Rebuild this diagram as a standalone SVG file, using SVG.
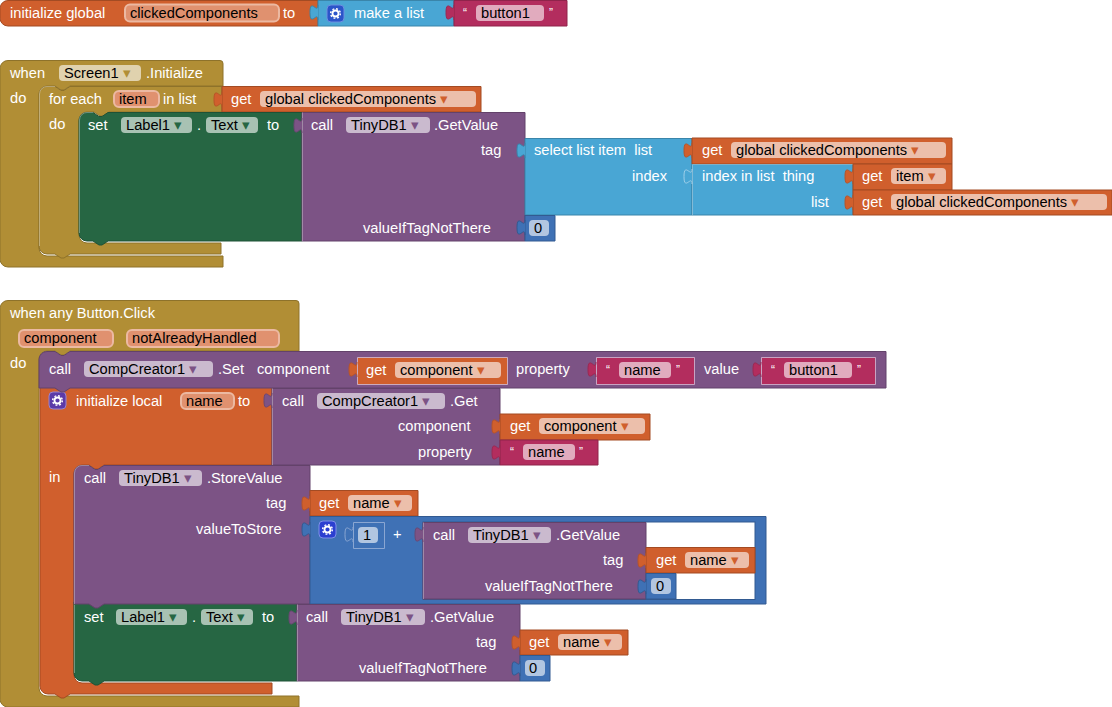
<svg xmlns="http://www.w3.org/2000/svg" width="1112" height="707" viewBox="0 0 1112 707">
<style>
text{font-family:"Liberation Sans",Arial,sans-serif;font-size:14.67px;fill:#fff;white-space:pre}
text.k{fill:#000}
text.q{font-size:12px}
.o{fill:#d05f2d;stroke:#a34b23}.ot{fill:#d05f2d;stroke:#b85428}
.b{fill:#49a6d4;stroke:#3a85aa}.bt{fill:#49a6d4;stroke:#3a85aa}
.btl{fill:#49a6d4;stroke:#9fd0ea}
.r{fill:#b32d5e;stroke:#8f244b}.rt{fill:#b32d5e;stroke:#9c2852}
.g{fill:#b18e35;stroke:#8e722a}
.v{fill:#7c5385;stroke:#63426a}.vt{fill:#7c5385;stroke:#6b4873}
.d{fill:#266643;stroke:#1e5236}
.n{fill:#3f71b5;stroke:#325a91}.nt{fill:#3f71b5;stroke:#325a91}
.ntl{fill:#3f71b5;stroke:#8aa6d2}
.f{fill:#fff;fill-opacity:.6}
.fd{fill:#e0916f;stroke:#ecb9a2;stroke-width:2}
.hl{fill:none;stroke:#fff;stroke-opacity:.35}
.ol{stroke:#d9c6dd;stroke-opacity:.75}
.to{fill:#d05f2d}.tv{fill:#7c5385}.tg{fill:#b18e35}.td{fill:#266643}
</style>
<defs>
<path id="tab" d="M0,0c0,10-8-8-8,7.500s8-2.500,8,7.500"/>
<g id="gear"><circle cx="8.500" cy="8.500" r="3" fill="none" stroke="#fff" stroke-width="1.800"/><circle cx="8.500" cy="8.500" r="4.800" fill="none" stroke="#fff" stroke-width="1.500" stroke-dasharray="1.900 1.870"/></g>
</defs>

<g id="init-global">
<path class="o" d="M8,0.500H318V26H8a8,8 0 0 1-8-8V8.500a8,8 0 0 1 8-8z"/>
<text x="10" y="18">initialize global</text>
<rect class="fd" x="125" y="4.500" width="154" height="17" rx="5"/>
<text class="k" x="130" y="18">clickedComponents</text>
<text x="283" y="18">to</text>
</g>
<g id="make-list">
<path class="b" d="M318,0.500H454V26H318z"/>
<use href="#tab" x="318" y="5" class="bt"/>
<rect x="327" y="5" width="17" height="17" rx="4" fill="#2b54c9" stroke="#6d8fe0"/>
<use href="#gear" x="327" y="5"/>
<text x="354" y="18">make a list</text>
</g>
<g id="text-button1-a">
<path class="r" d="M454,0.500H567V26H454z"/>
<use href="#tab" x="454" y="5" class="rt"/>
<text class="q" x="463" y="17">“</text>
<rect class="f" x="476" y="5" width="68" height="16" rx="4"/>
<text class="k" x="481" y="18">button1</text>
<text class="q" x="549" y="17">”</text>
</g>

<g id="when-screen">
<path class="g" d="M8,60.500H220q3,0 3,3V86H70l-6,4h-3l-6-4H47a8,8 0 0 0-8,8V248a8,8 0 0 0 8,8H223V267H8a8,8 0 0 1-8-8V68.500a8,8 0 0 1 8-8z"/>
<text x="10" y="78">when</text>
<rect class="f" x="59" y="65" width="82" height="16" rx="4"/>
<text class="k" x="64" y="78">Screen1 <tspan class="tg">▾</tspan></text>
<text x="146" y="78">.Initialize</text>
<text x="10" y="103">do</text>
</g>
<g id="for-each">
<path class="g" d="M47,86.500H55l6,4h3l6-4H222V112H109l-6,4h-3l-6-4H87a8,8 0 0 0-8,8V235a8,8 0 0 0 8,8H221V254H70l-6,4h-3l-6-4H47a8,8 0 0 1-8-8V94.500a8,8 0 0 1 8-8z"/>
<path class="hl" d="M39.500,246V94a7.500,7.500 0 0 1 7.500-7.500H55"/>
<text x="49" y="104">for each</text>
<rect class="fd" x="114" y="91" width="45" height="16" rx="5"/>
<text class="k" x="119" y="104">item</text>
<text x="163" y="104">in list</text>
<text x="49" y="129">do</text>
</g>
<g id="get-global-a">
<path class="o" d="M222,86.500H481V112H222z"/>
<use href="#tab" x="222" y="92" class="ot"/>
<text x="231" y="104">get</text>
<rect class="f" x="260" y="91" width="216" height="16" rx="4"/>
<text class="k" x="265" y="104">global clickedComponents <tspan class="to">▾</tspan></text>
</g>
<g id="set-label-a">
<path class="d" d="M87,112.500H93l6,4h3l6-4H302V241H108l-6,4h-3l-6-4H87a8,8 0 0 1-8-8V120.500a8,8 0 0 1 8-8z"/>
<path class="hl" d="M79.500,233V120a7.500,7.500 0 0 1 7.500-7.500H93"/>
<text x="88" y="130">set</text>
<rect class="f" x="121" y="117" width="71" height="16" rx="4"/>
<text class="k" x="126" y="130">Label1 <tspan class="td">▾</tspan></text>
<text x="197" y="130">.</text>
<rect class="f" x="206" y="117" width="52" height="16" rx="4"/>
<text class="k" x="211" y="130">Text <tspan class="td">▾</tspan></text>
<text x="267" y="130">to</text>
</g>
<g id="tinydb-getvalue-a">
<path class="v" d="M302,112.500H525V241H302z"/>
<path class="hl" d="M302.500,241V112.500"/>
<use href="#tab" x="302" y="118" class="vt"/>
<text x="311" y="130">call</text>
<rect class="f" x="346" y="117" width="84" height="16" rx="4"/>
<text class="k" x="351" y="130">TinyDB1 <tspan class="tv">▾</tspan></text>
<text x="434" y="130">.GetValue</text>
<text x="481" y="155">tag</text>
<text x="363" y="233">valueIfTagNotThere</text>
</g>
<g id="select-list-item">
<path class="b" d="M525,138.500H692V215H525z"/>
<use href="#tab" x="525" y="143" class="bt"/>
<text x="534" y="155">select list item  list</text>
<text x="632" y="181">index</text>
</g>
<g id="get-global-b">
<path class="o" d="M692,138H952V164H692z"/>
<use href="#tab" x="692" y="143" class="ot"/>
<text x="702" y="155">get</text>
<rect class="f" x="731" y="142" width="215" height="16" rx="4"/>
<text class="k" x="736" y="155">global clickedComponents <tspan class="to">▾</tspan></text>
</g>
<g id="index-in-list">
<path class="b" d="M692,164.500H853V215H692z"/>
<path class="hl" d="M692.500,215V164.500H853"/>
<use href="#tab" x="692" y="169" class="btl"/>
<text x="702" y="181">index in list  thing</text>
<text x="811" y="207">list</text>
</g>
<g id="get-item">
<path class="o" d="M853,164H952V190H853z"/>
<use href="#tab" x="853" y="169" class="ot"/>
<text x="862" y="181">get</text>
<rect class="f" x="891" y="168" width="55" height="16" rx="4"/>
<text class="k" x="896" y="181">item <tspan class="to">▾</tspan></text>
</g>
<g id="get-global-c">
<path class="o" d="M853,190H1112V215H853z"/>
<use href="#tab" x="853" y="195" class="ot"/>
<text x="862" y="207">get</text>
<rect class="f" x="891" y="194" width="216" height="16" rx="4"/>
<text class="k" x="896" y="207">global clickedComponents <tspan class="to">▾</tspan></text>
</g>
<g id="num-0-a">
<path class="n" d="M525,215.500H555V241H525z"/>
<use href="#tab" x="525" y="220" class="nt"/>
<rect class="f" x="529" y="220" width="20" height="16" rx="4"/>
<text class="k" x="534" y="233">0</text>
</g>

<g id="when-any-button">
<path class="g" d="M8,300.500H296q3,0 3,3V351H70l-6,4h-3l-6-4H47a8,8 0 0 0-8,8V688a8,8 0 0 0 8,8H299V707H8a8,8 0 0 1-8-8V308.500a8,8 0 0 1 8-8z"/>
<text x="10" y="318">when any Button.Click</text>
<rect class="fd" x="19" y="330" width="94" height="17" rx="5"/>
<text class="k" x="24" y="343">component</text>
<rect class="fd" x="127" y="330" width="152" height="17" rx="5"/>
<text class="k" x="132" y="343">notAlreadyHandled</text>
<text x="10" y="368">do</text>
</g>
<g id="init-local">
<path class="o" d="M40,386H272V465H104l-6,4h-3l-6-4H82a8,8 0 0 0-8,8V675a8,8 0 0 0 8,8H272V694H70l-6,4h-3l-6-4H48a8,8 0 0 1-8-8z"/>
<rect x="49" y="392" width="17" height="17" rx="4" fill="#5b3aa8" stroke="#9a84d0"/>
<use href="#gear" x="49" y="392"/>
<text x="76" y="406">initialize local</text>
<rect class="fd" x="181" y="393" width="53" height="16" rx="5"/>
<text class="k" x="186" y="406">name</text>
<text x="238" y="406">to</text>
<text x="49" y="482">in</text>
</g>
<g id="compcreator-set">
<path class="v" d="M47,351.500H55l6,4h3l6-4H886V388H70l-6,4h-3l-6-4H39V359.500a8,8 0 0 1 8-8z"/>
<text x="49" y="374">call</text>
<rect class="f" x="84" y="361" width="129" height="16" rx="4"/>
<text class="k" x="89" y="374">CompCreator1 <tspan class="tv">▾</tspan></text>
<text x="218" y="374">.Set</text>
<text x="257" y="374">component</text>
<text x="516" y="374">property</text>
<text x="704" y="374">value</text>
</g>
<g id="get-component-a">
<path class="o ol" d="M357.500,357.500H507.500V384.500H357.500z"/>
<use href="#tab" x="357" y="362" class="ot"/>
<text x="366" y="375">get</text>
<rect class="f" x="395" y="362" width="106" height="16" rx="4"/>
<text class="k" x="400" y="375">component <tspan class="to">▾</tspan></text>
</g>
<g id="text-name-a">
<path class="r ol" d="M596.500,357.500H694.500V384.500H596.500z"/>
<use href="#tab" x="596" y="362" class="rt"/>
<text class="q" x="606" y="374">“</text>
<rect class="f" x="619" y="362" width="52" height="16" rx="4"/>
<text class="k" x="624" y="375">name</text>
<text class="q" x="676" y="374">”</text>
</g>
<g id="text-button1-b">
<path class="r ol" d="M761.500,357.500H875.500V384.500H761.500z"/>
<use href="#tab" x="761" y="362" class="rt"/>
<text class="q" x="771" y="374">“</text>
<rect class="f" x="784" y="362" width="68" height="16" rx="4"/>
<text class="k" x="789" y="375">button1</text>
<text class="q" x="857" y="374">”</text>
</g>
<g id="compcreator-get">
<path class="v" d="M272,388.500H500V465H272z"/>
<path class="hl" d="M272.500,465V388.500"/>
<use href="#tab" x="272" y="393" class="vt"/>
<text x="282" y="406">call</text>
<rect class="f" x="317" y="393" width="128" height="16" rx="4"/>
<text class="k" x="322" y="406">CompCreator1 <tspan class="tv">▾</tspan></text>
<text x="450" y="406">.Get</text>
<text x="398" y="431">component</text>
<text x="418" y="457">property</text>
</g>
<g id="get-component-b">
<path class="o" d="M500,414H650V440H500z"/>
<use href="#tab" x="500" y="419" class="ot"/>
<text x="510" y="431">get</text>
<rect class="f" x="539" y="418" width="106" height="16" rx="4"/>
<text class="k" x="544" y="431">component <tspan class="to">▾</tspan></text>
</g>
<g id="text-name-b">
<path class="r" d="M500,440H598V465H500z"/>
<use href="#tab" x="500" y="445" class="rt"/>
<text class="q" x="510" y="456">“</text>
<rect class="f" x="523" y="444" width="52" height="16" rx="4"/>
<text class="k" x="528" y="457">name</text>
<text class="q" x="579" y="456">”</text>
</g>
<g id="set-label-b">
<path class="d" d="M74,602H297V681H104l-6,4h-3l-6-4H82a8,8 0 0 1-8-8z"/>
<path class="hl" d="M74.500,673V604.500"/>
<text x="84" y="622">set</text>
<rect class="f" x="116" y="609" width="71" height="16" rx="4"/>
<text class="k" x="121" y="622">Label1 <tspan class="td">▾</tspan></text>
<text x="192" y="622">.</text>
<rect class="f" x="201" y="609" width="52" height="16" rx="4"/>
<text class="k" x="206" y="622">Text <tspan class="td">▾</tspan></text>
<text x="262" y="622">to</text>
</g>
<g id="storevalue">
<path class="v" d="M82,465.500H89l6,4h3l6-4H310V604H104l-6,4h-3l-6-4H74V473.500a8,8 0 0 1 8-8z"/>
<path class="hl" d="M74.500,604V473a7.500,7.500 0 0 1 7.500-7.500H89"/>
<text x="84" y="483">call</text>
<rect class="f" x="119" y="470" width="83" height="16" rx="4"/>
<text class="k" x="124" y="483">TinyDB1 <tspan class="tv">▾</tspan></text>
<text x="207" y="483">.StoreValue</text>
<text x="266" y="508">tag</text>
<text x="196" y="534">valueToStore</text>
</g>
<g id="get-name-a">
<path class="o" d="M310,490.500H418V516H310z"/>
<use href="#tab" x="310" y="496" class="ot"/>
<text x="319" y="508">get</text>
<rect class="f" x="348" y="495" width="64" height="16" rx="4"/>
<text class="k" x="353" y="508">name <tspan class="to">▾</tspan></text>
</g>
<g id="math-add">
<path class="n" d="M310,516.500H766V604H310z"/>
<rect x="423" y="522" width="332" height="77.500" fill="#fff" stroke="#325a91"/>
<use href="#tab" x="310" y="522" class="nt"/>
<rect x="319" y="521" width="17" height="17" rx="4" fill="#2b3fd0" stroke="#7f90e8"/>
<use href="#gear" x="319" y="521"/>
<text x="393" y="539">+</text>
</g>
<g id="num-1">
<path class="n" d="M353.500,522.500H384.500V548.500H353.500z" style="stroke:#8aa6d2"/>
<use href="#tab" x="353" y="527" class="ntl"/>
<rect class="f" x="358" y="527" width="20" height="16" rx="4"/>
<text class="k" x="363" y="540">1</text>
</g>
<g id="tinydb-getvalue-b">
<path class="v" d="M423,522.500H646V599H423z"/>
<path class="hl" d="M423.500,599V522.500"/>
<use href="#tab" x="423" y="527" class="vt"/>
<text x="433" y="540">call</text>
<rect class="f" x="468" y="527" width="83" height="16" rx="4"/>
<text class="k" x="473" y="540">TinyDB1 <tspan class="tv">▾</tspan></text>
<text x="556" y="540">.GetValue</text>
<text x="603" y="565">tag</text>
<text x="485" y="591">valueIfTagNotThere</text>
</g>
<g id="get-name-b">
<path class="o" d="M646,547.500H755V573H646z"/>
<use href="#tab" x="646" y="553" class="ot"/>
<text x="656" y="565">get</text>
<rect class="f" x="685" y="552" width="64" height="16" rx="4"/>
<text class="k" x="690" y="565">name <tspan class="to">▾</tspan></text>
</g>
<g id="num-0-b">
<path class="n" d="M646,573.500H676V599H646z"/>
<use href="#tab" x="646" y="579" class="nt"/>
<rect class="f" x="651" y="578" width="20" height="16" rx="4"/>
<text class="k" x="656" y="591">0</text>
</g>
<g id="tinydb-getvalue-c">
<path class="v" d="M297,604.500H520V681H297z"/>
<path class="hl" d="M297.500,681V604.500"/>
<use href="#tab" x="297" y="610" class="vt"/>
<text x="306" y="622">call</text>
<rect class="f" x="341" y="609" width="84" height="16" rx="4"/>
<text class="k" x="346" y="622">TinyDB1 <tspan class="tv">▾</tspan></text>
<text x="430" y="622">.GetValue</text>
<text x="476" y="647">tag</text>
<text x="359" y="673">valueIfTagNotThere</text>
</g>
<g id="get-name-c">
<path class="o" d="M520,630H628V655H520z"/>
<use href="#tab" x="520" y="635" class="ot"/>
<text x="529" y="647">get</text>
<rect class="f" x="558" y="634" width="64" height="16" rx="4"/>
<text class="k" x="563" y="647">name <tspan class="to">▾</tspan></text>
</g>
<g id="num-0-c">
<path class="n" d="M520,655.500H550V681H520z"/>
<use href="#tab" x="520" y="661" class="nt"/>
<rect class="f" x="525" y="660" width="20" height="16" rx="4"/>
<text class="k" x="529" y="673">0</text>
</g>
<g id="connectors"/>
</svg>
